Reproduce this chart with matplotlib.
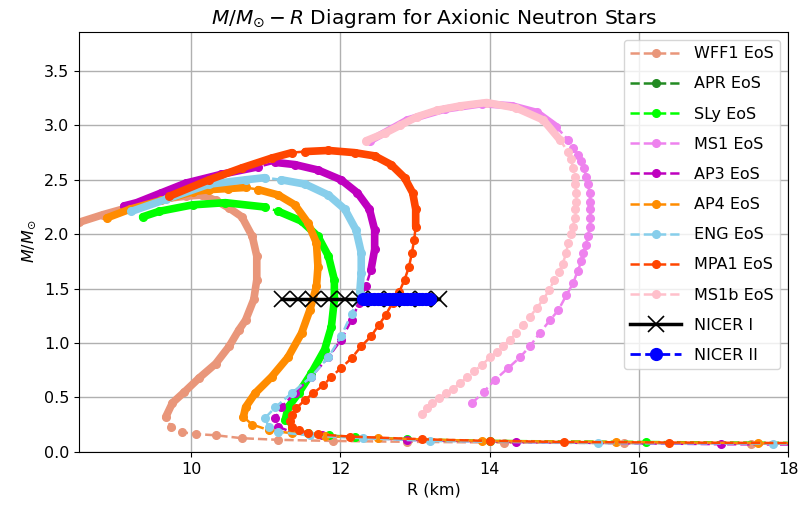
import matplotlib
matplotlib.use("Agg")
import matplotlib.pyplot as plt

# mass-radius curves (R in km, M in solar masses),
# ordered from the high-density end (upper left) down to the low-mass tail
wff1_r = [8.2, 8.5, 8.82, 9.13, 9.57, 9.93, 10.15, 10.33, 10.51, 10.68, 10.82, 10.88,
          10.88, 10.84, 10.73, 10.64, 10.51, 10.33, 10.11, 9.91, 9.75, 9.66, 9.73, 9.88,
          10.06, 10.33, 10.68, 11.17, 11.9, 12.9, 14.2, 15.8, 17.5, 19.0]
wff1_m = [2.05, 2.11, 2.18, 2.24, 2.32, 2.35, 2.36, 2.31, 2.24, 2.16, 1.98, 1.80,
          1.58, 1.40, 1.21, 1.12, 0.97, 0.81, 0.68, 0.55, 0.45, 0.32, 0.23, 0.18,
          0.163, 0.152, 0.125, 0.11, 0.10, 0.092, 0.085, 0.08, 0.075, 0.07]

apr_r = []  # APR is hidden beneath the other curves in the reference
apr_m = []

sly_r = [9.35, 9.57, 10.02, 10.46, 10.99, 11.17, 11.48, 11.70, 11.84, 11.92, 11.92, 11.88,
         11.79, 11.61, 11.44, 11.30, 11.26, 11.35, 11.57, 11.85, 12.2, 12.9, 14.0, 16.1, 18.5]
sly_m = [2.16, 2.21, 2.27, 2.29, 2.25, 2.21, 2.12, 1.98, 1.80, 1.58, 1.40, 1.15,
         0.94, 0.72, 0.54, 0.41, 0.29, 0.215, 0.17, 0.15, 0.135, 0.115, 0.10, 0.09, 0.08]

ms1_r = [12.40, 12.9, 13.4, 13.9, 14.3, 14.63, 14.89, 15.05, 15.12, 15.18, 15.23, 15.27,
         15.29, 15.32, 15.34, 15.35, 15.35, 15.35, 15.34, 15.32, 15.29, 15.25, 15.23, 15.18,
         15.12, 15.03, 14.92, 14.81, 14.67, 14.54, 14.41, 14.25, 14.07, 13.92, 13.77]
ms1_m = [2.86, 3.05, 3.15, 3.20, 3.18, 3.12, 2.99, 2.87, 2.79, 2.73, 2.67, 2.61,
         2.53, 2.46, 2.38, 2.30, 2.23, 2.15, 2.07, 1.98, 1.90, 1.83, 1.75, 1.66,
         1.55, 1.44, 1.30, 1.21, 1.09, 0.97, 0.87, 0.77, 0.66, 0.55, 0.45]

ap3_r = [9.1, 9.27, 9.6, 9.93, 10.4, 10.90, 11.13, 11.39, 11.70, 12.01, 12.23, 12.39,
         12.46, 12.46, 12.41, 12.34, 12.25, 12.15, 12.01, 11.84, 11.61, 11.39, 11.21, 11.13,
         11.17, 11.35, 11.75, 12.9, 14.35, 17.1, 19.0]
ap3_m = [2.26, 2.29, 2.38, 2.47, 2.55, 2.62, 2.66, 2.64, 2.59, 2.50, 2.38, 2.23,
         2.04, 1.86, 1.67, 1.52, 1.37, 1.21, 1.03, 0.87, 0.69, 0.54, 0.41, 0.31,
         0.23, 0.18, 0.15, 0.11, 0.09, 0.07, 0.065]

ap4_r = [8.87, 9.18, 9.6, 10.02, 10.24, 10.5, 10.73, 10.90, 11.17, 11.39, 11.57, 11.68,
         11.70, 11.68, 11.59, 11.48, 11.30, 11.08, 10.86, 10.73, 10.70, 10.82, 11.04, 11.35,
         11.8, 12.5, 13.9, 15.7, 17.6, 19.0]
ap4_m = [2.15, 2.23, 2.31, 2.39, 2.41, 2.42, 2.43, 2.41, 2.36, 2.27, 2.10, 1.92,
         1.70, 1.52, 1.30, 1.09, 0.87, 0.69, 0.54, 0.41, 0.32, 0.25, 0.20, 0.17,
         0.145, 0.125, 0.10, 0.09, 0.08, 0.075]

eng_r = [9.20, 9.66, 10.24, 10.73, 10.99, 11.21, 11.53, 11.84, 12.06, 12.21, 12.28, 12.28,
         12.26, 12.15, 12.01, 11.84, 11.61, 11.35, 11.13, 10.99, 11.04, 11.17, 11.6, 12.3,
         13.2, 15.46, 17.8, 19.0]
eng_m = [2.21, 2.32, 2.46, 2.50, 2.52, 2.50, 2.46, 2.36, 2.23, 2.04, 1.83, 1.64,
         1.46, 1.27, 1.06, 0.87, 0.69, 0.54, 0.41, 0.31, 0.23, 0.18, 0.15, 0.125,
         0.10, 0.08, 0.075, 0.07]

mpa1_r = [9.71, 10.24, 10.68, 11.08, 11.35, 11.53, 11.84, 12.19, 12.46, 12.68, 12.86, 12.97,
          13.01, 13.01, 12.99, 12.96, 12.92, 12.86, 12.79, 12.70, 12.61, 12.52, 12.41, 12.28,
          12.15, 12.01, 11.88, 11.77, 11.64, 11.53, 11.41, 11.35, 11.33, 11.35, 11.44, 11.57,
          11.70, 12.13, 13.1, 14.0, 15.0, 16.4, 18.2, 19.0]
mpa1_m = [2.35, 2.50, 2.61, 2.70, 2.75, 2.76, 2.77, 2.75, 2.72, 2.64, 2.52, 2.38,
          2.23, 2.07, 1.95, 1.83, 1.70, 1.58, 1.47, 1.37, 1.26, 1.17, 1.06, 0.97,
          0.86, 0.77, 0.69, 0.61, 0.54, 0.48, 0.40, 0.34, 0.28, 0.23, 0.20, 0.175,
          0.16, 0.14, 0.115, 0.10, 0.09, 0.085, 0.08, 0.075]

ms1b_r = [12.35, 12.6, 12.8, 13.03, 13.3, 13.61, 13.96, 14.36, 14.72, 14.94, 15.05, 15.09,
          15.12, 15.14, 15.15, 15.16, 15.16, 15.15, 15.14, 15.12, 15.09, 15.05, 15.03, 14.98,
          14.93, 14.87, 14.80, 14.72, 14.63, 14.54, 14.45, 14.36, 14.27, 14.18, 14.10, 14.01,
          13.90, 13.79, 13.70, 13.61, 13.51, 13.41, 13.32, 13.23, 13.16, 13.10]
ms1b_m = [2.86, 2.93, 3.00, 3.08, 3.14, 3.18, 3.21, 3.16, 3.05, 2.87, 2.76, 2.69,
          2.61, 2.53, 2.46, 2.38, 2.30, 2.23, 2.15, 2.07, 2.00, 1.92, 1.83, 1.73,
          1.65, 1.58, 1.49, 1.40, 1.32, 1.24, 1.17, 1.09, 1.03, 0.97, 0.92, 0.87,
          0.80, 0.74, 0.69, 0.63, 0.58, 0.54, 0.49, 0.45, 0.40, 0.35]

nicer1_r = [11.22, 11.43, 11.64, 11.85, 12.06, 12.27, 12.48, 12.69, 12.90, 13.11, 13.32]
nicer1_m = [1.4] * len(nicer1_r)
nicer2_r = [12.30, 12.35, 12.40, 12.45, 12.50, 12.55, 12.60, 12.65, 12.70, 12.75,
            12.80, 12.85, 12.90, 12.95, 13.00, 13.05, 13.10, 13.15, 13.20]
nicer2_m = [1.4] * len(nicer2_r)

# name, r, m, colour, (index after which the dense band breaks, last index of dense band)
eos = [
    ("WFF1", wff1_r, wff1_m, "darksalmon", (None, 21)),
    ("APR", apr_r, apr_m, "forestgreen", (None, 0)),
    ("SLy", sly_r, sly_m, "lime", (4, 16)),
    ("MS1", ms1_r, ms1_m, "violet", (None, 6)),
    ("AP3", ap3_r, ap3_m, "m", (5, 14)),
    ("AP4", ap4_r, ap4_m, "darkorange", (6, 20)),
    ("ENG", eng_r, eng_m, "skyblue", (4, 12)),
    ("MPA1", mpa1_r, mpa1_m, "orangered", (4, 13)),
    ("MS1b", ms1b_r, ms1b_m, "pink", (None, 9)),
]

MS = 5.5

fig = plt.figure(figsize=(8, 5.14), dpi=100)
ax = fig.add_axes([0.099, 0.121, 0.886, 0.817])

for name, r, m, col, (gap, end) in eos:
    if r:
        # closely packed markers in the original read as a solid band
        if gap is None:
            segs = [(0, end + 1)]
        else:
            segs = [(0, gap + 1), (gap + 1, end + 1)]
        for a, b in segs:
            ax.plot(r[a:b], m[a:b], '-', color=col, lw=MS, solid_capstyle='round')
    ax.plot(r, m, '--o', color=col, lw=1.8, ms=MS, label=f"{name} EoS")

ax.plot(nicer1_r, nicer1_m, '-x', color='black', lw=2.5, ms=11, mew=1.2, label="NICER I")
ax.plot(nicer2_r, nicer2_m, '--o', color='blue', lw=2, ms=8.5, label="NICER II")

ax.set_xlim(8.5, 18)
ax.set_ylim(0, 3.86)
ax.set_xticks([10, 12, 14, 16, 18])
ax.set_yticks([0, 0.5, 1.0, 1.5, 2.0, 2.5, 3.0, 3.5])
ax.tick_params(labelsize=11.5)
ax.grid(True, color='#b0b0b0', lw=1)
ax.set_xlabel("R (km)", fontsize=11.5)
ax.set_ylabel(r"$M/M_{\odot}$", fontsize=11.5)
ax.set_title(r"$M/M_{\odot} - R$ Diagram for Axionic Neutron Stars", fontsize=14.5)
ax.legend(loc='upper right', fontsize=11.5, labelspacing=0.95, handlelength=3.2)

fig.savefig("out.png", dpi=100)
